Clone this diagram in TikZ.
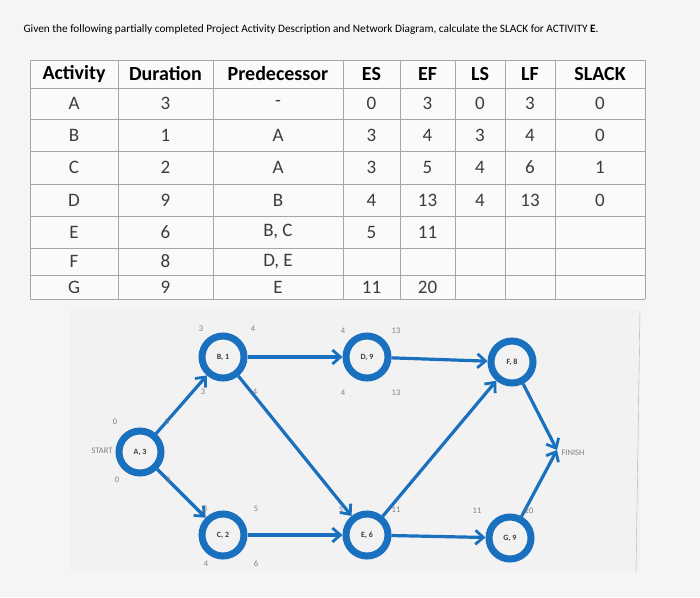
\documentclass[tikz,border=0pt]{standalone}
\usepackage{fontspec}
\setmainfont{Carlito}
\usetikzlibrary{arrows.meta}
\definecolor{nb}{RGB}{24,112,190}
\definecolor{tx}{RGB}{60,60,60}
\begin{document}
\begin{tikzpicture}[x=1pt,y=-1pt,
  act/.style={circle,draw=nb,line width=7pt,minimum size=42pt,inner sep=0pt,font=\fontsize{8}{9}\selectfont\bfseries,text=tx},
  lab/.style={font=\fontsize{8.5}{10}\selectfont,text=gray},
  conn/.style={draw=nb,line width=3.2pt,-{Straight Barb[length=8pt,width=14pt,line width=2.8pt]}},
  cell/.style={font=\fontsize{19}{21}\selectfont,text=tx},
  head/.style={font=\fontsize{20}{22}\selectfont\bfseries,text=black}]
\useasboundingbox (0,0) rectangle (700,597);
\fill[white!92!gray] (0,0) rectangle (700,597);
\node[anchor=west,font=\fontsize{11.3}{13}\selectfont] (title) at (20,30) {Given the following partially completed Project Activity Description and Network Diagram, calculate the SLACK for ACTIVITY \textbf{E}.};
% table
\fill[white!96!gray] (30,60) rectangle (645,299);
\foreach \x in {30,118,213,343,400,455,505,555,645} \draw[gray!70,line width=0.8pt] (\x,60) -- (\x,299);
\foreach \y in {60,88,119,151,184,216,248,275,299} \draw[gray!70,line width=0.8pt] (30,\y) -- (645,\y);
\def\cx{{74,165.5,278,371.5,427.5,480,530,600}}
\def\ry{{74,103.5,135,167.5,200,232,261.5,287}}
\foreach \t [count=\i from 0] in {Activity,Duration,Predecessor,ES,EF,LS,LF,SLACK}
  \node[head] (h\i) at ({\cx[\i]},{\ry[0]}) {\t};
\foreach \r/\row in {1/{A,3,-,0,3,0,3,0},2/{B,1,A,3,4,3,4,0},3/{C,2,A,3,5,4,6,1},4/{D,9,B,4,13,4,13,0},5/{E,6,{B, C},5,11,,,},6/{F,8,{D, E},,,,,},7/{G,9,E,11,20,,,}}
  \foreach \t [count=\i from 0] in \row
    \node[cell] (c\r\i) at ({\cx[\i]},{\ry[\r]}) {\t};
% network panel
\fill[white!90!gray] (70,310) rectangle (640,572);
\draw[gray!60] (640,310) -- (636,572);
\node[act] (A) at (140,452) {A, 3};
\node[act] (B) at (223,357) {B, 1};
\node[act] (C) at (223,535) {C, 2};
\node[act] (D) at (367,357) {D, 9};
\node[act] (E) at (367,535) {E, 6};
\node[act] (F) at (512,362) {F, 8};
\node[act] (G) at (510,538) {G, 9};
\node[lab,anchor=east] (st) at (116,451) {START};
\node[lab,anchor=west] (fi) at (558,453) {FINISH};
\coordinate (fin) at (557,450);
\draw[conn] (A) -- (B);
\draw[conn] (A) -- (C);
\draw[conn] (B) -- (D);
\draw[conn] (B) -- (E);
\draw[conn] (C) -- (E);
\draw[conn] (D) -- (F);
\draw[conn] (E) -- (F);
\draw[conn] (E) -- (G);
\draw[conn] (F) -- (fin);
\draw[conn] (G) -- (fin);
% ES/EF/LS/LF labels
\node[lab] (a1) at (115,422) {0}; \node[lab] (a2) at (167,422) {3};
\node[lab] (a3) at (117,480) {0}; \node[lab] (a4) at (168,480) {3};
\node[lab] (b1) at (201,329) {3}; \node[lab] (b2) at (253,329) {4};
\node[lab] (b3) at (203,392) {3}; \node[lab] (b4) at (255,392) {4};
\node[lab] (c1) at (205,509) {3}; \node[lab] (c2) at (256,509) {5};
\node[lab] (c3) at (206,564) {4}; \node[lab] (c4) at (256,564) {6};
\node[lab] (d1) at (343,331) {4}; \node[lab] (d2) at (396,331) {13};
\node[lab] (d3) at (343,393) {4}; \node[lab] (d4) at (396,393) {13};
\node[lab] (e1) at (341,510) {5}; \node[lab] (e2) at (396,510) {11};
\node[lab] (g1) at (477,511) {11}; \node[lab] (g2) at (529,511) {20};
\end{tikzpicture}
\end{document}
